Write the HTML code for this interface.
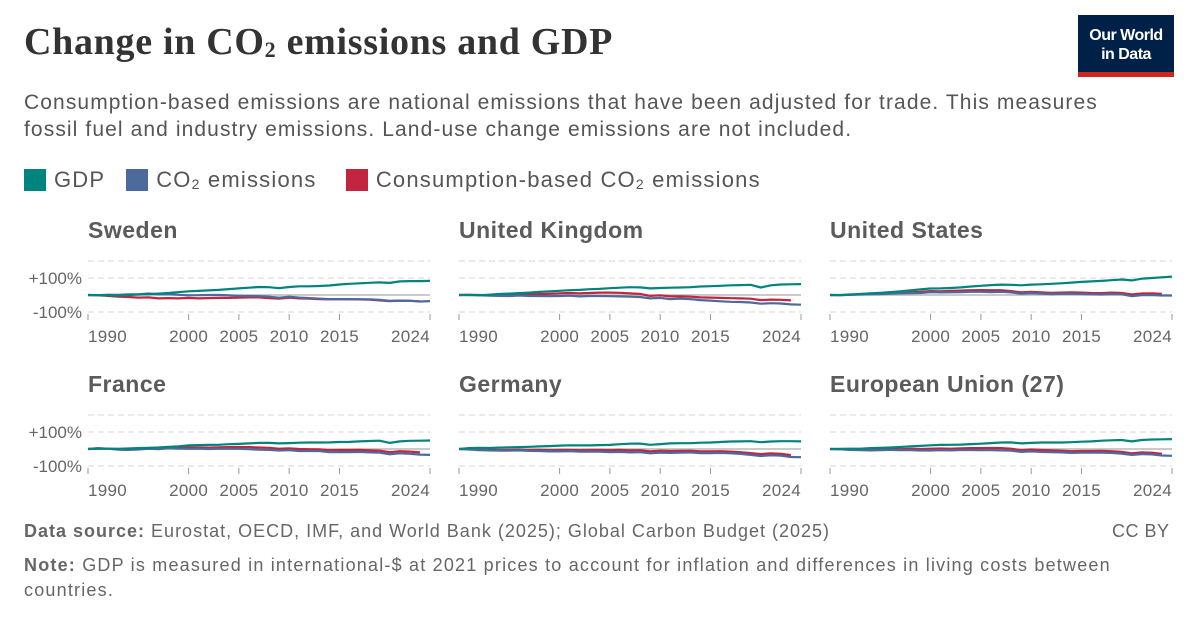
<!DOCTYPE html>
<html><head><meta charset="utf-8"><style>
body{margin:0;background:#fff;font-family:"Liberation Sans",sans-serif;}
#root{position:relative;width:1200px;height:627px;overflow:hidden;background:#fff}
.t{position:absolute;white-space:nowrap}
</style></head><body>
<div id="root">
<div class="t" style="left:24px;top:20px;font-family:'Liberation Serif',serif;font-weight:bold;font-size:38px;color:#333;letter-spacing:0.7px">Change in CO<sub style="font-size:22px;vertical-align:-3px">2</sub> emissions and GDP</div>
<div style="position:absolute;left:1078px;top:15px;width:96px;height:62px;background:#002147;border-bottom:5px solid #ce261e;box-sizing:border-box;color:#fff;font-size:16px;font-weight:bold;text-align:center;line-height:19px;padding-top:11px;letter-spacing:-0.5px">Our World<br>in Data</div>
<div class="t" style="left:24px;top:89px;font-size:21px;line-height:27px;color:#555;letter-spacing:1.1px">Consumption-based emissions are national emissions that have been adjusted for trade. This measures<br>fossil fuel and industry emissions. Land-use change emissions are not included.</div>
<div class="t" style="left:24px;top:166px;font-size:22px;color:#555;line-height:28px;letter-spacing:1.2px">
<span><span style="display:inline-block;width:22px;height:22px;background:#00847e;vertical-align:-4px;margin-right:8px"></span>GDP</span>
<span style="margin-left:14px"><span style="display:inline-block;width:22px;height:22px;background:#4c6a9c;vertical-align:-4px;margin-right:8px"></span>CO<sub style="font-size:14px;vertical-align:-2px">2</sub> emissions</span>
<span style="margin-left:22px"><span style="display:inline-block;width:22px;height:22px;background:#c3243f;vertical-align:-4px;margin-right:8px"></span>Consumption-based CO<sub style="font-size:14px;vertical-align:-2px">2</sub> emissions</span>
</div>
<svg id="plots" width="1200" height="627" style="position:absolute;left:0;top:0"></svg>
<div class="t" style="left:24px;top:521px;font-size:18px;color:#666;letter-spacing:1px"><b>Data source:</b> Eurostat, OECD, IMF, and World Bank (2025); Global Carbon Budget (2025)</div>
<div class="t" style="left:1112px;top:521px;font-size:18px;color:#666;letter-spacing:0.5px">CC BY</div>
<div class="t" style="left:24px;top:553px;font-size:18px;line-height:25px;color:#666;letter-spacing:1.2px"><b>Note:</b> GDP is measured in international-$ at 2021 prices to account for inflation and differences in living costs between<br>countries.</div>
</div>
<script>
const years=[1990,1991,1992,1993,1994,1995,1996,1997,1998,1999,2000,2001,2002,2003,2004,2005,2006,2007,2008,2009,2010,2011,2012,2013,2014,2015,2016,2017,2018,2019,2020,2021,2022,2023,2024];
const tickYears=[1990,2000,2005,2010,2015,2024];
const yTicks=[200,100,0,-100];
const yTickLabels=["","+100%","","-100%"];
const countries=["Sweden","United Kingdom","United States","France","Germany","European Union (27)"];
const gdpSweden=[0,-1,-2,-4,0,3,5,8,12,17,22,24,27,30,35,39,43,47,46,40,47,51,51,53,56,62,66,69,72,74,71,80,82,82,83];
const co2Sweden=[0,-1,2,1,4,4,9,4,4,1,-2,-1,0,0,-2,-5,-6,-7,-10,-16,-10,-15,-18,-22,-24,-24,-24,-25,-26,-29,-35,-33,-34,-38,-36];
const consSweden=[0,-2,-5,-10,-12,-15,-14,-20,-18,-20,-17,-20,-18,-17,-17,-15,-14,-14,-18,-22,-16,-20,-22,-24,-25,-24,-25,-26,-27,-32,-36,-33,-34,-37,null];
const gdpUK=[0,-1,-1,2,6,8,11,14,18,21,25,28,30,34,36,40,43,46,45,39,41,43,44,46,50,52,54,57,58,60,44,57,62,63,64];
const co2UK=[0,1,-2,-4,-5,-6,-3,-6,-6,-7,-6,-4,-8,-6,-6,-7,-8,-10,-12,-20,-17,-24,-21,-24,-30,-33,-37,-40,-41,-44,-51,-48,-50,-55,-57];
const consUK=[0,1,0,-1,0,1,4,4,5,7,10,12,10,12,14,14,13,10,6,-5,-2,-8,-8,-10,-14,-15,-17,-19,-20,-22,-30,-27,-28,-32,null];
const gdpUS=[0,0,3,6,10,13,17,22,27,33,38,39,41,45,50,54,58,61,60,57,61,63,66,69,73,77,80,83,87,91,86,96,100,104,108];
const co2US=[0,-1,1,3,4,5,8,10,11,12,17,15,16,17,19,19,17,19,15,8,11,9,5,7,8,6,4,3,6,4,-7,-1,0,-3,-3];
const consUS=[0,-1,1,4,6,8,11,13,15,18,23,22,24,26,28,29,28,28,23,15,18,16,13,14,15,14,12,11,14,12,3,9,10,7,null];
const gdpFR=[0,1,2,1,3,5,7,9,13,16,21,23,24,25,28,30,33,36,36,33,35,37,38,38,39,41,42,45,47,49,36,45,48,49,50];
const co2FR=[0,5,2,-4,-5,-3,1,-1,4,2,1,2,0,1,1,1,-1,-4,-5,-9,-7,-12,-12,-12,-19,-18,-18,-17,-20,-22,-31,-25,-28,-33,-35];
const consFR=[0,3,2,0,1,2,5,4,8,7,8,9,8,10,11,12,11,9,7,2,4,0,-1,-2,-7,-6,-6,-5,-8,-10,-19,-13,-15,-20,null];
const gdpDE=[0,5,7,6,8,10,11,13,15,17,20,22,21,21,23,24,28,31,32,25,29,33,34,34,37,38,41,44,45,46,40,44,46,46,45];
const co2DE=[0,-3,-7,-8,-10,-10,-8,-11,-12,-14,-14,-13,-15,-15,-16,-18,-17,-20,-19,-25,-21,-23,-22,-20,-24,-24,-23,-25,-29,-35,-41,-37,-39,-47,-48];
const consDE=[0,-1,-5,-5,-7,-6,-4,-6,-5,-7,-6,-6,-7,-6,-6,-7,-5,-8,-7,-14,-10,-12,-11,-10,-14,-14,-13,-15,-19,-24,-30,-26,-28,-36,null];
const gdpEU=[0,1,2,2,5,7,9,12,15,18,22,24,25,26,29,31,35,38,39,33,36,38,38,38,40,43,45,49,51,53,45,53,56,57,58];
const co2EU=[0,-2,-5,-7,-8,-7,-5,-7,-7,-9,-9,-7,-8,-6,-6,-7,-7,-8,-10,-17,-14,-17,-18,-20,-23,-22,-22,-21,-23,-27,-35,-30,-32,-38,-40];
const consEU=[0,-1,-3,-4,-4,-2,0,-1,1,0,2,3,2,4,5,5,6,5,2,-7,-3,-6,-8,-10,-13,-12,-12,-11,-13,-17,-25,-20,-22,-28,null];
const gdpAll=[gdpSweden,gdpUK,gdpUS,gdpFR,gdpDE,gdpEU];
const co2All=[co2Sweden,co2UK,co2US,co2FR,co2DE,co2EU];
const consAll=[consSweden,consUK,consUS,consFR,consDE,consEU];

const NS="http://www.w3.org/2000/svg";
const svg=document.getElementById('plots');
function mk(tag,attrs,parent){const e=document.createElementNS(NS,tag);for(const k in attrs)e.setAttribute(k,attrs[k]);(parent||svg).appendChild(e);return e;}
const colX=[88,459,830],rowY=[295,449],W=342,unit=17/100;
countries.forEach((name,i)=>{
  const x0=colX[i%3],y0=rowY[Math.floor(i/3)];
  const xs=yr=>x0+(yr-1990)/(2024-1990)*W;
  const ys=v=>y0-v*unit;
  const g=mk('g',{});
  
  
  const t=mk('text',{x:x0,y:y0-57,'font-size':23,'font-weight':'bold',fill:'#5b5b5b','letter-spacing':0.5,'font-family':'Liberation Sans, sans-serif'},g);
  t.textContent=name;
  
  
  yTicks.forEach((v,k)=>{
    const l=mk('line',{x1:x0,x2:x0+W,y1:ys(v),y2:ys(v),stroke:v===0?'#aaa':'#ddd','stroke-width':1.3,'stroke-dasharray':v===0?'':'6,4'},g);
    
    
    if(i%3===0&&yTickLabels[k]){
      const tl=mk('text',{x:x0-6,y:ys(v)+6,'font-size':17,fill:'#666','text-anchor':'end','font-family':'Liberation Sans, sans-serif'},g);
      tl.textContent=yTickLabels[k];
      
      
    }
  });
  tickYears.forEach((yr,k)=>{
    const tm=mk('line',{x1:xs(yr),x2:xs(yr),y1:ys(-100)+2,y2:ys(-100)+8,stroke:'#999','stroke-width':1},g);
    
    
    const tl=mk('text',{x:xs(yr),y:ys(-100)+30,'font-size':17,fill:'#666','letter-spacing':0.3,'text-anchor':k===0?'start':(k===tickYears.length-1?'end':'middle'),'font-family':'Liberation Sans, sans-serif'},g);
    tl.textContent=yr;
    
    
  });
  [[consAll[i],'#c3243f','consumption-co2-line'],[co2All[i],'#4c6a9c','co2-line'],[gdpAll[i],'#00847e','gdp-line']].forEach(([arr,col,nm])=>{
    let d='';
    arr.forEach((v,j)=>{if(v===null)return;d+=(d?'L':'M')+xs(years[j]).toFixed(1)+','+ys(v).toFixed(1);});
    const p=mk('path',{d:d,fill:'none',stroke:col,'stroke-width':2.2,'stroke-linejoin':'round'},g);
    
    
  });
});
</script>
</body></html>
